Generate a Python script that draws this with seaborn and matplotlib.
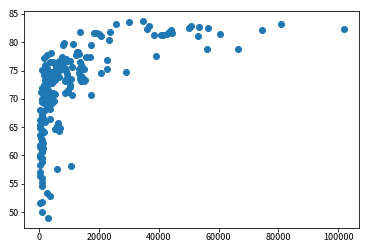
import matplotlib
matplotlib.use("Agg")
import matplotlib.pyplot as plt
import seaborn as sns
import pandas as pd

gdp_per_capita = [
    13744, 18325, 19228, 19897, 20666, 23776, 25782, 30129, 34610, 36048,
    36617, 38289, 40630, 41499, 42636, 43405, 43974, 44408, 23240, 39158,
    29026, 50093, 50760, 53538, 53204, 56548, 56214, 60561, 66580, 74606,
    80960, 102025,
    7860, 8395, 11403, 17422, 4046, 12874, 12306, 13209, 12540, 15550,
    16887, 22772, 8862, 8059, 9296, 10299, 13643, 13877, 14312, 15081,
    22672, 20666, 15316, 13643, 8962, 17422, 10299, 9530, 8862, 9296,
    10600, 13643, 13977,
    6521, 4514, 5384, 2040, 2608, 7624, 8728, 10968, 13209, 3177,
    4280, 4849, 5952, 2040, 3177, 4280, 5384, 6521, 9865, 8728,
    13209, 14312, 14881, 1505, 2608, 10400,
    1605, 2608, 3611, 1104, 3611, 1605, 5618, 6956, 7624,
    2040, 3177, 5384, 4280, 9296, 8728, 10968, 936, 1505, 2608,
    2040, 4280, 4849, 3712, 1940, 3043, 2508, 1371, 3611, 1940,
    836, 3611, 4715, 836, 268, 1371, 936, 2040, 3712, 5952,
    7056, 6521, 5384, 6387, 368, 936, 368, 836, 268, 836,
    268, 836, 268, 836, 268, 836, 268, 268, 836, 836,
    5852, 10533, 2508, 3611, 836, 268, 1037, 3043,
    435, 936, 602, 1271, 1104, 435, 936, 1605, 1438, 368,
    602, 1104,
]

life_expectancy = [
    81.8, 81.6, 81.6, 81.4, 81.1, 81.9, 83.3, 83.5, 83.8, 82.3,
    82.8, 81.3, 81.3, 81.2, 81.5, 81.9, 82.1, 81.7, 80.4, 77.5,
    74.8, 82.5, 82.8, 82.7, 81.1, 82.5, 78.8, 81.4, 78.8, 82.1,
    83.2, 82.3,
    79.5, 79.8, 79.7, 79.5, 78.05, 78.2, 77.8, 77.9, 78.3, 77.35,
    77.35, 76.9, 77.05, 76.6, 76.7, 76.7, 76.5, 75.9, 75.7, 75.3,
    75.3, 74.5, 73.3, 74.2, 73.6, 70.7, 72.05, 71.6, 74.9, 74.45,
    73.6, 73.6, 73.1,
    76.75, 76.6, 76.2, 76.0, 75.4, 75.8, 75.4, 75.7, 75.2, 74.5,
    74.8, 73.9, 74.5, 73.3, 73.0, 72.8, 73.3, 73.9, 73.6, 73.2,
    74.5, 73.9, 73.2, 72.5, 72.2, 72.5,
    77.2, 77.75, 76.5, 75.1, 73.7, 74.2, 75.5, 75.1, 77.4,
    71.6, 71.3, 70.9, 70.7, 71.3, 71.0, 70.7, 69.9, 69.3, 68.7,
    68.1, 69.3, 69.7, 68.3, 72.2, 71.6, 70.7, 70.1, 69.8, 69.2,
    69.5, 70.4, 71.0, 67.2, 66.3, 66.6, 66.6, 66.0, 66.5, 65.2,
    64.9, 64.3, 64.6, 65.7, 64.9, 64.3, 63.7, 64.5, 65.4, 62.7,
    61.9, 61.0, 60.1, 60.7, 59.8, 58.9, 58.3, 57.1, 56.0, 55.4,
    57.6, 58.1, 53.3, 52.9, 51.8, 51.6, 50.0, 48.9,
    68.0, 67.5, 63.1, 62.2, 59.6, 56.4, 54.6, 64.2, 61.3, 61.5,
    71.2, 71.9,
]

x_ticks = [0, 20000, 40000, 60000, 80000, 100000]
y_ticks = [50, 55, 60, 65, 70, 75, 80, 85]

df = pd.DataFrame({"gdp": gdp_per_capita, "life": life_expectancy})

plt.rcParams["font.family"] = ["Noto Sans CJK SC", "DejaVu Sans"]

W, H = 369, 250
fig = plt.figure(figsize=(W / 72, H / 72), dpi=72)
ax = fig.add_axes([24.3 / W, 1 - 227.7 / H, 335 / W, 217 / H])

sns.scatterplot(data=df, x="gdp", y="life", ax=ax, s=36, color="#1f77b4",
                edgecolor="#1f77b4", linewidth=1, legend=False)

ax.set_xlim(-4980, 107050)
ax.set_ylim(47.24, 85.58)
ax.set_xticks(x_ticks)
ax.set_yticks(y_ticks)
ax.set_xticklabels([str(t) for t in x_ticks])
ax.set_yticklabels([str(t) for t in y_ticks])
ax.tick_params(labelsize=9, length=3.5, width=0.8, pad=2)
ax.set_xlabel("")
ax.set_ylabel("")
for s in ax.spines.values():
    s.set_linewidth(0.8)
    s.set_color("black")

fig.savefig("out.png", dpi=72)
